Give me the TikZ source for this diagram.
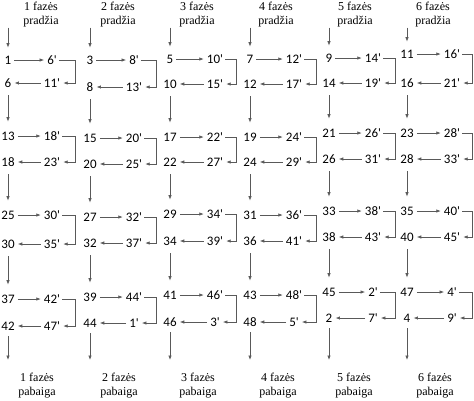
\documentclass[tikz,border=0pt]{standalone}
\usepackage{fontspec}
\setmainfont{Liberation Serif}
\newfontfamily\numfont{Carlito}
\usetikzlibrary{arrows.meta}
\begin{document}
\begin{tikzpicture}[x=1pt,y=-1pt,
  num/.style={font=\fontsize{13}{15}\selectfont\numfont, text height=8.4pt, text depth=0pt, inner xsep=2pt, inner ysep=2pt},
  lab/.style={font=\fontsize{12}{14.2}\selectfont, align=center, inner sep=0pt},
  arr/.style={draw=black!65, line width=0.7pt, -{Latex[length=4.5pt,width=3.5pt]}},
]
\useasboundingbox (0,0) rectangle (474,400);
\foreach \k/\cx/\px/\bx/\hx/\ex/\ra/\rb/\rc/\rd/\re/\rf/\rg/\rh in {
  1/8/52/75/41/37/60/83/136/162/215/244/299/326,
  2/90/134/156/118/119/60/87/138/164/217/243/297/323,
  3/170/215/236/197/198/59/84/137/162/214/241/295/322,
  4/250/294/316/276/278/59/84/137/162/215/241/295/322,
  5/329/373/395/355/354/58/83/133/159/211/237/292/318,
  6/407/452/472/433/435/54/83/133/159/211/237/292/318}{
  \node[lab, anchor=north] (H\k) at (\hx,2) {\k{} fazės\\pradžia};
  \node[lab, anchor=north] (E\k) at (\ex,373) {\k{} fazės\\pabaiga};
  \foreach \j/\yt/\yb in {0/\ra/\rb, 1/\rc/\rd, 2/\re/\rf, 3/\rg/\rh}{
    \pgfmathtruncatemacro\numLT{mod(2*\k-2+12*\j,48)+1}
    \pgfmathtruncatemacro\numLB{mod(2*\k+3+12*\j,48)+1}
    \pgfmathtruncatemacro\numPB{mod(2*\k+8+12*\j,48)+1}
    \pgfmathtruncatemacro\jp{\j-1}
    \node[num] (L\k-\j-t) at (\cx,\yt) {\numLT};
    \node[num] (L\k-\j-b) at (\cx,\yb) {\numLB};
    \node[num] (P\k-\j-t) at (\px,\yt) {\numLB'};
    \node[num] (P\k-\j-b) at (\px,\yb) {\numPB'};
    \coordinate (B\k-\j) at (\bx,\yt);
    \draw[arr, shorten <=1pt, shorten >=1pt] (L\k-\j-t.east) -- (P\k-\j-t.west);
    \draw[arr, shorten >=1pt] (P\k-\j-t.east) -- (B\k-\j) |- (P\k-\j-b.east);
    \draw[arr, shorten <=1pt, shorten >=1pt] (P\k-\j-b.west) -- (L\k-\j-b.east);
    \ifnum\j>0
      \draw[arr, shorten <=6pt, shorten >=8pt] (L\k-\jp-b.south) -- (L\k-\jp-b.south |- L\k-\j-t.north);
    \fi
  }
  \draw[arr, shorten >=6pt] (H\k.south -| L\k-0-t.north) -- (L\k-0-t.north);
  \draw[arr, shorten <=4pt, shorten >=13pt] (L\k-3-b.south) -- (L\k-3-b.south |- E\k.north);
}
\end{tikzpicture}
\end{document}
